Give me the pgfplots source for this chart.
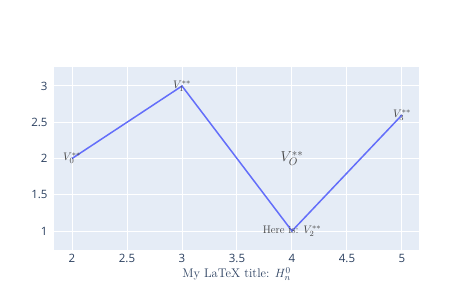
\documentclass[border=0pt]{standalone}
\usepackage{pgfplots}
\pgfplotsset{compat=1.18}
\usepackage{fontspec}
\newfontfamily\ticksfont{Open Sans}
\definecolor{bgc}{HTML}{E5ECF6}
\definecolor{linec}{HTML}{636EFA}
\definecolor{tickc}{HTML}{2A3F5F}
\definecolor{labc}{HTML}{444444}
\begin{document}
\begin{tikzpicture}
\begin{axis}[
  scale only axis,
  width=365bp, height=183bp,
  xmin=1.836, xmax=5.155,
  ymin=0.738, ymax=3.262,
  xtick={2,2.5,3,3.5,4,4.5,5},
  ytick={1,1.5,2,2.5,3},
  xticklabels={2,2.5,3,3.5,4,4.5,5},
  yticklabels={1,1.5,2,2.5,3},
  axis background/.style={fill=bgc},
  axis line style={draw=none},
  major tick length=0pt,
  grid=major,
  major grid style={white, line width=1bp},
  tick label style={font=\ticksfont\fontsize{11.5bp}{13bp}\selectfont, text=tickc},
  xticklabel style={yshift=-1bp},
  yticklabel style={xshift=-3bp},
  xlabel={My LaTeX title: $H_n^0$},
  xlabel style={font=\fontsize{12.5bp}{14bp}\selectfont, text=tickc, yshift=2bp},
  clip=false,
  point meta=explicit symbolic,
]
\addplot[color=linec, line width=1.5bp, mark=none,
  nodes near coords={\pgfplotspointmeta},
  nodes near coords align={center},
  every node near coord/.append style={font=\fontsize{11bp}{13bp}\selectfont, text=labc, anchor=center, inner sep=0pt},
] coordinates {
  (2,2) [$V_0^{**}$]
  (3,3) [$V_1^{**}$]
  (4,1) [Here is: $V_2^{**}$]
  (5,2.6) [$V_3^{**}$]
};
\node[font=\fontsize{15bp}{17bp}\selectfont, text=labc] at (axis cs:4,2) {$V_O^{**}$};
\coordinate (bl) at (rel axis cs:0,0);
\coordinate (tr) at (rel axis cs:1,1);
\end{axis}
\pgfresetboundingbox
\path[use as bounding box] ([shift={(-54bp,-54bp)}]bl) rectangle ([shift={(55bp,67bp)}]tr);
\end{tikzpicture}
\end{document}
